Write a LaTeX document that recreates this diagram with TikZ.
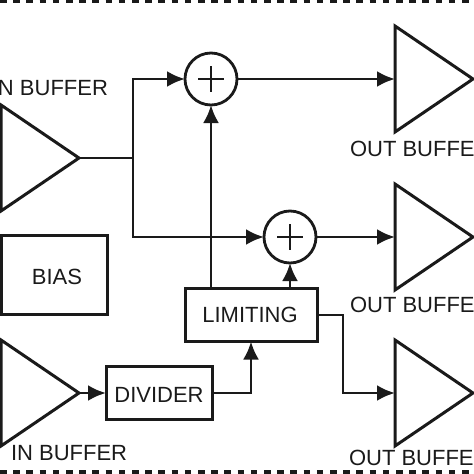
\documentclass[tikz,border=0pt]{standalone}
\usepackage{fontspec}
\setmainfont{Liberation Sans}
\usetikzlibrary{arrows.meta, positioning, shapes.geometric}
\definecolor{inkblack}{RGB}{26, 26, 26}
\tikzset{
	block/.style={rectangle, draw=inkblack, line width=3pt, inner sep=0pt, outer sep=0pt, align=center},
	buffer/.style={isosceles triangle, isosceles triangle stretches, shape border rotate=0, anchor=lower side, draw=inkblack, line width=3pt, inner sep=0pt, outer sep=0pt, minimum width=106pt, minimum height=78pt},
	summer/.style={circle, draw=inkblack, line width=2.8pt, inner sep=0pt, outer sep=0pt, minimum size=52pt},
	caption/.style={inner sep=0pt, outer sep=0pt, font=\fontsize{22}{24}\selectfont, text=inkblack},
	arrow/.style={-{Latex[length=18pt, width=16pt]}, line width=2.8pt, draw=inkblack},
	plain/.style={line width=2.8pt, draw=inkblack},
	border/.style={line width=3.4pt, draw=inkblack, dash pattern=on 6.6pt off 6.6pt},
}
\begin{document}
\begin{tikzpicture}[x=1pt, y=-1pt]
	\useasboundingbox (0,0) rectangle (474,474);
	\node[buffer] (inA) at (1,158) {};
	\node[buffer] (inB) at (1,393) {};
	\node[buffer] (outA) at (395,79) {};
	\node[buffer] (outB) at (395,237) {};
	\node[buffer] (outC) at (395,393) {};
	\node[summer] (sumA) at (211,79) {};
	\node[summer] (sumB) at (290,237) {};
	\node[block, minimum width=106pt, minimum height=79pt] (bias) at (54,275) {};
	\node[block, minimum width=132pt, minimum height=53pt] (limiting) at (251,315) {};
	\node[block, minimum width=106pt, minimum height=53pt] (divider) at (159,393) {};
	\node[caption] at (57,277) (biastext) {BIAS};
	\node[caption] at (250,315) (limitingtext) {LIMITING};
	\node[caption] at (159,395) (dividertext) {DIVIDER};
	\node[caption, anchor=east] (inAtext) at (108,88) {N BUFFER};
	\node[caption, anchor=west] (inBtext) at (11,453) {IN BUFFER};
	\node[caption, anchor=west] (outAtext) at (350,149) {OUT BUFFE};
	\node[caption, anchor=west] (outBtext) at (350,305) {OUT BUFFE};
	\node[caption, anchor=west] (outCtext) at (349,458) {OUT BUFFE};
	\coordinate (split) at (133,158);
	\coordinate (bend) at (343,315);
	\coordinate (topA) at (0,1.5);
	\coordinate (topB) at (474,1.5);
	\coordinate (botA) at (0,472);
	\coordinate (botB) at (474,472);
	\draw[plain] (inA.apex) -- (split);
	\draw[arrow] (split) |- (sumA);
	\draw[arrow] (split) |- (sumB);
	\draw[arrow] (sumA) -- (outA.lower side);
	\draw[arrow] (sumB) -- (outB.lower side);
	\draw[arrow] (sumA |- limiting.north) -- (sumA);
	\draw[arrow] (sumB |- limiting.north) -- (sumB);
	\draw[arrow] (limiting.east) -| (bend) |- (outC.lower side);
	\draw[arrow] (inB.apex) -- (divider);
	\draw[arrow] (divider) -| (limiting.south);
	\draw[plain] (sumA.center) ++(-13,0) -- ++(26,0) (sumA.center) ++(0,-13) -- ++(0,26);
	\draw[plain] (sumB.center) ++(-13,0) -- ++(26,0) (sumB.center) ++(0,-13) -- ++(0,26);
	\draw[border] (topA) -- (topB);
	\draw[border] (botA) -- (botB);
\end{tikzpicture}
\end{document}
